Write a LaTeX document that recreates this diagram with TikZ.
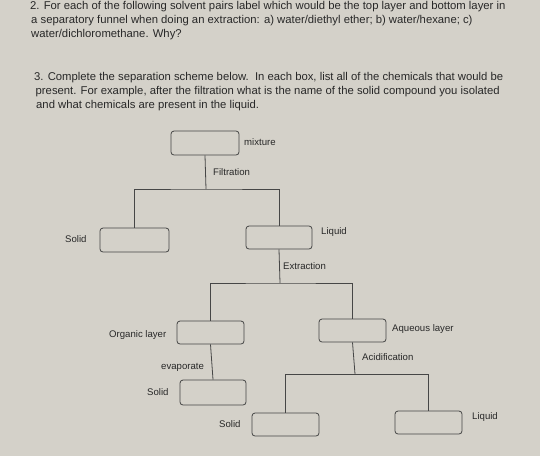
\documentclass[tikz,border=0pt]{standalone}
\usepackage{fontspec}
\setmainfont{Liberation Sans}
\definecolor{paper}{RGB}{212,209,201}
\definecolor{ink}{RGB}{40,40,40}
\definecolor{rule}{RGB}{70,70,70}
\tikzset{
  qtext/.style={anchor=base west, inner sep=0pt, text=ink, font=\fontsize{11.3}{14}\selectfont},
  lbl/.style={anchor=base west, inner sep=0pt, text=ink, font=\fontsize{9.6}{11}\selectfont},
  blank/.style={draw=rule, line width=0.8pt, rounded corners=3pt, inner sep=0pt},
  conn/.style={draw=rule, line width=0.8pt}
}
\newcommand{\boxat}[5]{\node[blank, minimum width=#4-#2, minimum height=#5-#3] (#1) at ({(#2+#4)/2},{(#3+#5)/2}) {};}
\begin{document}
\begin{tikzpicture}[x=1pt,y=-1pt]
\useasboundingbox (0,0) rectangle (540,456);
\fill[paper] (0,0) rectangle (540,456);
% questions
\node[qtext] (q2a) at (30,9) {2. For each of the following solvent pairs label which would be the top layer and bottom layer in};
\node[qtext] (q2b) at (31,23) {a separatory funnel when doing an extraction: a) water/diethyl ether; b) water/hexane; c)};
\node[qtext] (q2c) at (31,37) {water/dichloromethane. Why?};
\node[qtext] (q3a) at (34,80) {3. Complete the separation scheme below.\ \ In each box, list all of the chemicals that would be};
\node[qtext] (q3b) at (35.5,94) {present. For example, after the filtration what is the name of the solid compound you isolated};
\node[qtext] (q3c) at (36,108) {and what chemicals are present in the liquid.};
% boxes
\boxat{mix}{171}{131}{239}{155}
\boxat{solidA}{100}{228}{169}{252}
\boxat{liqA}{246}{226}{312}{249}
\boxat{org}{177}{321}{244}{344}
\boxat{solidB}{180}{380}{246}{405}
\boxat{aq}{319}{319}{386}{342}
\boxat{solidC}{252}{413}{319}{436}
\boxat{liqB}{395}{411}{462}{434}
% junctions
\coordinate (j1) at (206,189);
\coordinate (j2) at (280,283);
\coordinate (j3) at (355,374);
\draw[conn] (mix.south) -- (j1);
\draw[conn] (solidA.north) |- (j1) -| (liqA.north);
\draw[conn] (liqA.south) -- (j2);
\draw[conn] (org.north) |- (j2) -| (aq.north);
\draw[conn] (org.south) -- (solidB.north);
\draw[conn] (aq.south) -- (j3);
\draw[conn] (solidC.north) |- (j3) -| (liqB.north);
% labels
\node[lbl] (lmix) at (244,145) {mixture};
\node[lbl] (lfil) at (213,175) {Filtration};
\node[lbl] (lsolA) at (65,242) {Solid};
\node[lbl] (lliqA) at (321,234) {Liquid};
\node[lbl] (lext) at (283,269) {Extraction};
\node[lbl] (lorg) at (109,337) {Organic layer};
\node[lbl] (levap) at (161,369) {evaporate};
\node[lbl] (lsolB) at (147,395) {Solid};
\node[lbl] (laq) at (392,331) {Aqueous layer};
\node[lbl] (lacid) at (362,360) {Acidification};
\node[lbl] (lsolC) at (219,427) {Solid};
\node[lbl] (lliqB) at (472,419) {Liquid};
\end{tikzpicture}
\end{document}
